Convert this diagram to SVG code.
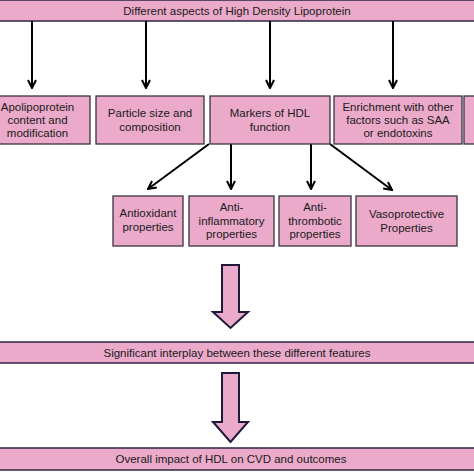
<svg xmlns="http://www.w3.org/2000/svg" width="474" height="474" viewBox="0 0 474 474">
<style>
.box{fill:#EBAACA;stroke:#3a3440;stroke-width:1.3}
.ban{fill:#EBAACA;stroke:#2c2645;stroke-width:1.5}
.blk{fill:#EBAACA;stroke:#1f1a3a;stroke-width:2;stroke-linejoin:miter}
.t{font-family:"Liberation Sans",Arial,sans-serif;font-size:11.5px;fill:#1a1a1a;text-anchor:middle}
.bt{font-family:"Liberation Sans",Arial,sans-serif;font-size:11.5px;fill:#1a1a1a;text-anchor:middle}
.c{stroke:#000;stroke-width:2;fill:none}
</style>
<defs>
<marker id="ah" viewBox="0 0 10 10" refX="9" refY="5" markerWidth="5" markerHeight="5" orient="auto" markerUnits="strokeWidth">
<polyline points="1,1 9,5 1,9" fill="none" stroke="#000" stroke-width="2"/>
</marker>
</defs>
<rect width="474" height="474" fill="#fff"/>
<g id="banner1"><rect class="ban" x="-5" y="0" width="484" height="21"/><text class="bt" x="237" y="15">Different aspects of High Density Lipoprotein</text></g>
<g id="connectors">
<line class="c" x1="32" y1="21" x2="32" y2="88" marker-end="url(#ah)"/>
<line class="c" x1="146" y1="21" x2="146" y2="88" marker-end="url(#ah)"/>
<line class="c" x1="270" y1="21" x2="270" y2="88" marker-end="url(#ah)"/>
<line class="c" x1="393" y1="21" x2="393" y2="88" marker-end="url(#ah)"/>
<line class="c" x1="209" y1="144" x2="148" y2="189" marker-end="url(#ah)"/>
<line class="c" x1="231" y1="144" x2="231" y2="189" marker-end="url(#ah)"/>
<line class="c" x1="311" y1="144" x2="311" y2="189" marker-end="url(#ah)"/>
<line class="c" x1="330" y1="144" x2="392" y2="190" marker-end="url(#ah)"/>
<polygon id="bigarrow1" class="blk" points="222,265 239,265 239,312 248,312 230.5,328 213,312 222,312"/>
<polygon id="bigarrow2" class="blk" points="222,373 239,373 239,422 248,422 230.5,442 213,422 222,422"/>
</g>
<g id="box1"><rect class="box" x="-15" y="96" width="105" height="48"/><text class="t" x="37.5" y="111">Apolipoprotein</text><text class="t" x="37.5" y="124">content and</text><text class="t" x="37.5" y="137">modification</text></g>
<g id="box2"><rect class="box" x="96" y="96" width="108" height="48"/><text class="t" x="150" y="117">Particle size and</text><text class="t" x="150" y="131">composition</text></g>
<g id="box3"><rect class="box" x="210" y="96" width="120" height="48"/><text class="t" x="270" y="117">Markers of HDL</text><text class="t" x="270" y="131">function</text></g>
<g id="box4"><rect class="box" x="334" y="96" width="128" height="48"/><text class="t" x="398" y="111">Enrichment with other</text><text class="t" x="398" y="124">factors such as SAA</text><text class="t" x="398" y="137">or endotoxins</text></g>
<g id="box5"><rect class="box" x="464" y="96" width="20" height="48"/></g>
<g id="boxA"><rect class="box" x="113" y="196" width="70" height="50"/><text class="t" x="148" y="217">Antioxidant</text><text class="t" x="148" y="231">properties</text></g>
<g id="boxB"><rect class="box" x="189" y="196" width="85" height="50"/><text class="t" x="231.5" y="211">Anti-</text><text class="t" x="231.5" y="225">inflammatory</text><text class="t" x="231.5" y="238">properties</text></g>
<g id="boxC"><rect class="box" x="279" y="196" width="72" height="50"/><text class="t" x="315" y="211">Anti-</text><text class="t" x="315" y="225">thrombotic</text><text class="t" x="315" y="238">properties</text></g>
<g id="boxD"><rect class="box" x="356" y="196" width="101" height="50"/><text class="t" x="406.5" y="218">Vasoprotective</text><text class="t" x="406.5" y="232">Properties</text></g>
<g id="banner2"><rect class="ban" x="-5" y="342" width="484" height="21"/><text class="bt" x="237" y="357">Significant interplay between these different features</text></g>
<g id="banner3"><rect class="ban" x="-5" y="448" width="484" height="22"/><text class="bt" x="231" y="463">Overall impact of HDL on CVD and outcomes</text></g>
</svg>
